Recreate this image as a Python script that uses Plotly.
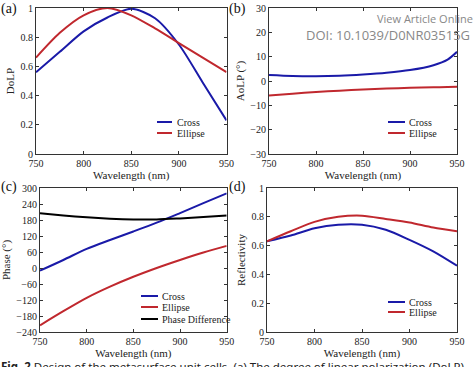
import plotly.graph_objects as go

wl = [750, 775, 800, 825, 850, 875, 900, 925, 950]

dolp_cross = [0.56, 0.70, 0.84, 0.935, 0.995, 0.93, 0.75, 0.49, 0.23]
dolp_ellipse = [0.66, 0.83, 0.95, 1.0, 0.95, 0.86, 0.76, 0.66, 0.56]

wl_aolp = [750, 775, 800, 825, 850, 875, 900, 925, 940, 950]
aolp_cross = [2.5, 2.1, 2.0, 2.2, 2.7, 3.4, 4.5, 6.5, 8.8, 12.0]
aolp_ellipse = [-6.0, -5.2, -4.5, -4.0, -3.5, -3.1, -2.8, -2.6, -2.5, -2.4]

phase_cross = [-10, 30, 72, 105, 137, 170, 206, 243, 280]
phase_ellipse = [-215, -162, -112, -70, -33, 0, 30, 58, 83]
phase_diff = [205, 197, 190, 185, 182, 182, 186, 191, 197]

refl_cross = [0.63, 0.67, 0.72, 0.745, 0.745, 0.71, 0.64, 0.56, 0.46]
refl_ellipse = [0.63, 0.70, 0.765, 0.80, 0.808, 0.785, 0.76, 0.725, 0.70]

x_ticks = [750, 800, 850, 900, 950]
BLUE = "#1a1aa8"
RED = "#c0282e"
BLACK = "#000000"
FONT = "Liberation Serif, Times New Roman, serif"

W, H = 474, 367
def dx(a, b):
    return [a / W, b / W]
def dy(top, bottom):
    return [1 - bottom / H, 1 - top / H]

fig = go.Figure()

def add(x, y, name, color, xa, ya):
    fig.add_trace(go.Scatter(x=x, y=y, name=name, mode="lines",
                             line=dict(color=color, width=2, shape="spline", smoothing=0.8),
                             xaxis=xa, yaxis=ya, showlegend=False))

add(wl, dolp_cross, "Cross", BLUE, "x", "y")
add(wl, dolp_ellipse, "Ellipse", RED, "x", "y")
add(wl_aolp, aolp_cross, "Cross", BLUE, "x2", "y2")
add(wl_aolp, aolp_ellipse, "Ellipse", RED, "x2", "y2")
add(wl, phase_cross, "Cross", BLUE, "x3", "y3")
add(wl, phase_ellipse, "Ellipse", RED, "x3", "y3")
add(wl, phase_diff, "Phase Difference", BLACK, "x3", "y3")
add(wl, refl_cross, "Cross", BLUE, "x4", "y4")
add(wl, refl_ellipse, "Ellipse", RED, "x4", "y4")

axcommon = dict(showline=True, linecolor="#333", linewidth=1, mirror="ticks", ticks="inside", ticklen=3,
                tickcolor="#333", showgrid=False, zeroline=False, automargin=False,
                tickfont=dict(family=FONT, size=10, color="#222"),
                title_font=dict(family=FONT, size=11, color="#222"))

xt = dict(range=[750, 950], tickvals=x_ticks, title=dict(text="Wavelength (nm)", standoff=1), **axcommon)

fig.update_layout(
    width=W, height=H, margin=dict(l=0, r=0, t=0, b=0, autoexpand=False), paper_bgcolor="white",
    plot_bgcolor="white", showlegend=False,
    xaxis=dict(domain=dx(36, 226.5), anchor="y", **xt),
    yaxis=dict(domain=dy(8, 154), anchor="x", range=[0, 1], tickvals=[0, 0.2, 0.4, 0.6, 0.8, 1],
               ticktext=["0", "0.2", "0.4", "0.6", "0.8", "1"], title=dict(text="DoLP", standoff=3), **axcommon),
    xaxis2=dict(domain=dx(269, 457), anchor="y2", **xt),
    yaxis2=dict(domain=dy(8, 154), anchor="x2", range=[-30, 30], tickvals=[-30, -20, -10, 0, 10, 20, 30],
                title=dict(text="AoLP (°)", standoff=3), **axcommon),
    xaxis3=dict(domain=dx(40, 226.7), anchor="y3", **xt),
    yaxis3=dict(domain=dy(188, 332), anchor="x3", range=[-240, 300],
                tickvals=[-240, -180, -120, -60, 0, 60, 120, 180, 240, 300],
                title=dict(text="Phase (°)", standoff=3), **axcommon),
    xaxis4=dict(domain=dx(267, 457), anchor="y4", **xt),
    yaxis4=dict(domain=dy(188, 332), anchor="x4", range=[0, 1], tickvals=[0, 0.2, 0.4, 0.6, 0.8, 1],
                ticktext=["0", "0.2", "0.4", "0.6", "0.8", "1"], title=dict(text="Reflectivity", standoff=3),
                **axcommon),
)

# manual legends: (line x0, line x1, text x, [(y, label, color), ...]) in pixels
legends = [
    (157, 172, 176, [(122, "Cross", BLUE), (133, "Ellipse", RED)]),
    (388, 405, 408, [(122, "Cross", BLUE), (133, "Ellipse", RED)]),
    (141, 158, 161, [(296, "Cross", BLUE), (307, "Ellipse", RED), (319, "Phase Difference", BLACK)]),
    (388, 405, 408, [(302, "Cross", BLUE), (312, "Ellipse", RED)]),
]
for x0, x1, tx, items in legends:
    for y, label, color in items:
        fig.add_shape(type="line", xref="paper", yref="paper", x0=x0 / W, x1=x1 / W, y0=1 - y / H, y1=1 - y / H,
                      line=dict(color=color, width=2))
        fig.add_annotation(text=label, x=tx / W, y=1 - y / H, xref="paper", yref="paper", xanchor="left",
                           yanchor="middle", showarrow=False, borderpad=0,
                           font=dict(family=FONT, size=10, color="#222"))

labels = [("(a)", 0, 1), ("(b)", 228 / W, 1), ("(c)", 0, 1 - 178 / H), ("(d)", 228 / W, 1 - 178 / H)]
for t, x, y in labels:
    fig.add_annotation(text=t, x=x, y=y, xref="paper", yref="paper", xanchor="left", yanchor="top",
                       showarrow=False, borderpad=0, font=dict(family=FONT, size=14, color="#111"))

fig.add_annotation(text="View Article Online", x=376 / W, y=1 - 10 / H, xref="paper", yref="paper",
                   xanchor="left", yanchor="top", showarrow=False, borderpad=0,
                   font=dict(family="Open Sans", size=11, color="#888"))
fig.add_annotation(text="DOI: 10.1039/D0NR03515G", x=305 / W, y=1 - 25 / H, xref="paper", yref="paper",
                   xanchor="left", yanchor="top", showarrow=False, borderpad=0,
                   font=dict(family="Open Sans", size=13, color="#888"))
fig.add_annotation(text="<b>Fig. 2</b> Design of the metasurface unit cells. (a) The degree of linear polarization (DoLP)",
                   x=0, y=1 - 358 / H, xref="paper", yref="paper", xanchor="left", yanchor="top",
                   showarrow=False, borderpad=0, font=dict(family="Noto Sans", size=11.5, color="#222"))

fig.write_html("out.html", config={"displayModeBar": False},
               post_script="document.body.style.margin='0';document.body.style.overflow='hidden';")
